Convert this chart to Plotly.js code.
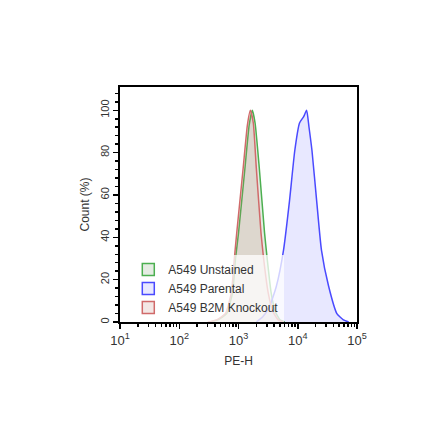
<!DOCTYPE html>
<html>
<head>
<meta charset="utf-8">
<script src="https://cdn.plot.ly/plotly-3.0.1.min.js"></script>
<style>
  html, body { margin: 0; padding: 0; background: #fff; }
  #renderTarget { width: 440px; height: 440px; }
</style>
</head>
<body>
<div id="renderTarget"></div>
<script>
// histogram outlines (PE-H value, count %)
const unstainedX = [316, 447, 631, 794, 891, 1000, 1288, 1514, 1710, 1905, 2239, 2754, 3020, 3548, 4169, 5012, 6026];
const unstainedY = [0, 1, 4, 14, 30, 42, 73, 93, 100, 94, 73, 42, 31, 14, 5, 1, 0];

const parentalX = [1995, 2570, 3311, 4365, 5754, 7244, 8913, 10715, 12589, 14125, 15488, 17378, 20893, 25119, 33113, 45709, 58884, 72444];
const parentalY = [0, 2.5, 7, 17, 34, 57, 81, 94, 97, 100, 92, 81, 57, 34, 17, 4, 1, 0];

const knockoutX = [302, 427, 603, 759, 851, 933, 1202, 1413, 1585, 1778, 1995, 2399, 2630, 3162, 3802, 4677, 5754];
const knockoutY = [0, 1, 4, 14, 30, 42, 73, 93, 100, 94, 73, 42, 31, 14, 5, 1, 0];

const seriesNames = ["A549 Unstained", "A549 Parental", "A549 B2M Knockout"];
const lineColors = ["#4caf50", "#4a4aff", "#d06a6a"];
const fillColors = ["rgba(110,150,100,0.18)", "rgba(110,110,255,0.16)", "rgba(190,120,110,0.18)"];

const xTickVals = [10, 100, 1000, 10000, 100000];
const xTickText = ["10<sup>1</sup>", "10<sup>2</sup>", "10<sup>3</sup>", "10<sup>4</sup>", "10<sup>5</sup>"];

const FONT = "Liberation Sans, Arial, sans-serif";

const makeTrace = (i, x, y) => ({
    x: x,
    y: y,
    name: seriesNames[i],
    type: "scatter",
    mode: "lines",
    line: { color: lineColors[i], width: 1.5, shape: "spline", smoothing: 0.5 },
    fill: "tozeroy",
    fillcolor: fillColors[i],
    showlegend: false,
});

const data = [
    makeTrace(0, unstainedX, unstainedY),
    makeTrace(1, parentalX, parentalY),
    makeTrace(2, knockoutX, knockoutY),
];

// boxed legend keys: empty rect shapes that only show up in the legend
const legendShapes = seriesNames.map((name, i) => ({
    type: "rect",
    xref: "paper", yref: "paper",
    x0: 0, x1: 0, y0: 0, y1: 0,
    line: { color: lineColors[i], width: 1.5 },
    fillcolor: fillColors[i],
    showlegend: true,
    name: name,
    legendrank: i + 1,
}));

const layout = {
    width: 440,
    height: 440,
    margin: { l: 120, r: 83, t: 87, b: 118 },
    paper_bgcolor: "#fff",
    plot_bgcolor: "#fff",
    font: { family: FONT, size: 11, color: "#333" },
    showlegend: true,
    shapes: legendShapes,
    legend: {
        x: 0.035, y: 0.0, xanchor: "left", yanchor: "bottom",
        bgcolor: "rgba(255,255,255,0.75)",
        font: { family: FONT, size: 12, color: "#333" },
        tracegroupgap: 0,
        itemwidth: 30,
    },
    xaxis: {
        type: "log",
        range: [1, 5],
        tickmode: "array",
        tickvals: xTickVals,
        ticktext: xTickText,
        ticks: "outside",
        ticklen: 5,
        tickwidth: 1.5,
        tickcolor: "#000",
        minor: { ticks: "outside", ticklen: 3, tickcolor: "#000", dtick: "D1" },
        showline: true,
        linewidth: 2,
        linecolor: "#000",
        mirror: true,
        showgrid: false,
        zeroline: false,
        tickfont: { family: FONT, size: 13, color: "#333" },
        title: { text: "PE-H", font: { family: FONT, size: 12, color: "#333" }, standoff: 10 },
    },
    yaxis: {
        range: [0, 111],
        tickvals: [0, 20, 40, 60, 80, 100],
        tickangle: -90,
        ticks: "outside",
        ticklen: 5,
        tickwidth: 1.5,
        tickcolor: "#000",
        minor: { ticks: "outside", ticklen: 3, tickcolor: "#000", dtick: 4 },
        showline: true,
        linewidth: 2,
        linecolor: "#000",
        mirror: true,
        showgrid: false,
        zeroline: false,
        tickfont: { family: FONT, size: 11, color: "#333" },
        title: { text: "Count (%)", font: { family: FONT, size: 12, color: "#333" }, standoff: 6 },
    },
};

Plotly.newPlot("renderTarget", data, layout, { displayModeBar: false, staticPlot: true });
</script>
</body>
</html>
